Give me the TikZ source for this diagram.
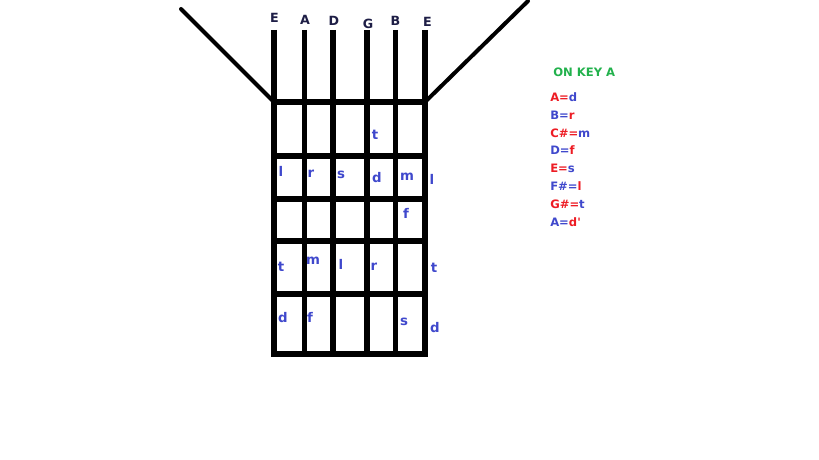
\documentclass[tikz,border=0pt]{standalone}
\usepackage{fontspec}
\newfontfamily\dv{DejaVu Sans}
\definecolor{nblue}{HTML}{3F48CC}
\definecolor{nred}{HTML}{ED1C24}
\definecolor{ngreen}{HTML}{22B14C}
\definecolor{ndark}{HTML}{1E1E46}
\begin{document}
\begin{tikzpicture}[x=0.75pt,y=-0.75pt,
  strg/.style={line width=3.9pt},
  fret/.style={line width=3.9pt,line cap=rect},
  diag/.style={line width=3pt,line cap=round},
  slabel/.style={font=\dv\bfseries\fontsize{9.5}{10}\selectfont,text=ndark,inner sep=0pt},
  note/.style={font=\dv\bfseries\fontsize{10}{10}\selectfont,text=nblue,inner sep=0pt},
  leg/.style={font=\dv\bfseries\fontsize{8.7}{10}\selectfont,inner sep=0pt,anchor=west}]
\useasboundingbox (0,0) rectangle (819,460);
% string positions
\foreach \n/\x in {s1/274,s2/304.5,s3/333,s4/367,s5/395.5,s6/425}{
  \coordinate (\n top) at (\x,30);
  \coordinate (\n bot) at (\x,356);
}
\foreach \n in {s1,s2,s3,s4,s5,s6}{\draw[strg] (\n top) -- (\n bot);}
% frets
\foreach \i/\y in {1/102,2/156,3/199,4/241,5/294,6/354}{
  \coordinate (f\i l) at (274,\y);
  \coordinate (f\i r) at (425,\y);
  \draw[fret] (f\i l) -- (f\i r);
}
% headstock diagonals
\coordinate (dl) at (181,9);
\coordinate (dr) at (528,1);
\draw[diag] (dl) -- (f1l);
\draw[diag] (dr) -- (f1r);
% string labels
\node[slabel] (lE1) at (274.5,18) {E};
\node[slabel] (lA) at (305,19.5) {A};
\node[slabel] (lD) at (334,20.5) {D};
\node[slabel] (lG) at (368,23.5) {G};
\node[slabel] (lB) at (395.5,20.5) {B};
\node[slabel] (lE2) at (427.5,21.5) {E};
% notes
\node[note] (n1) at (375,135) {t};
\node[note] (n2) at (281,171) {l};
\node[note] (n3) at (311,174) {r};
\node[note] (n4) at (341,175) {s};
\node[note] (n5) at (377,178) {d};
\node[note] (n6) at (407,177) {m};
\node[note] (n7) at (432,179) {l};
\node[note] (n8) at (406,213) {f};
\node[note] (n9) at (281,267) {t};
\node[note] (n10) at (313,261) {m};
\node[note] (n11) at (341,264) {l};
\node[note] (n12) at (374,267) {r};
\node[note] (n13) at (434,268) {t};
\node[note] (n14) at (283,318) {d};
\node[note] (n15) at (310,317) {f};
\node[note] (n16) at (404,322) {s};
\node[note] (n17) at (435,328) {d};
% legend
\node[leg,text=ngreen] (k0) at (553,72) {ON KEY A};
\node[leg] (k1) at (550,97) {\textcolor{nred}{A=}\textcolor{nblue}{d}};
\node[leg] (k2) at (550,115) {\textcolor{nblue}{B=}\textcolor{nred}{r}};
\node[leg] (k3) at (550,133) {\textcolor{nred}{C\#=}\textcolor{nblue}{m}};
\node[leg] (k4) at (550,150) {\textcolor{nblue}{D=}\textcolor{nred}{f}};
\node[leg] (k5) at (550,168) {\textcolor{nred}{E=}\textcolor{nblue}{s}};
\node[leg] (k6) at (550,186) {\textcolor{nblue}{F\#=}\textcolor{nred}{l}};
\node[leg] (k7) at (550,204) {\textcolor{nred}{G\#=}\textcolor{nblue}{t}};
\node[leg] (k8) at (550,222) {\textcolor{nblue}{A=}\textcolor{nred}{d'}};
\end{tikzpicture}
\end{document}
